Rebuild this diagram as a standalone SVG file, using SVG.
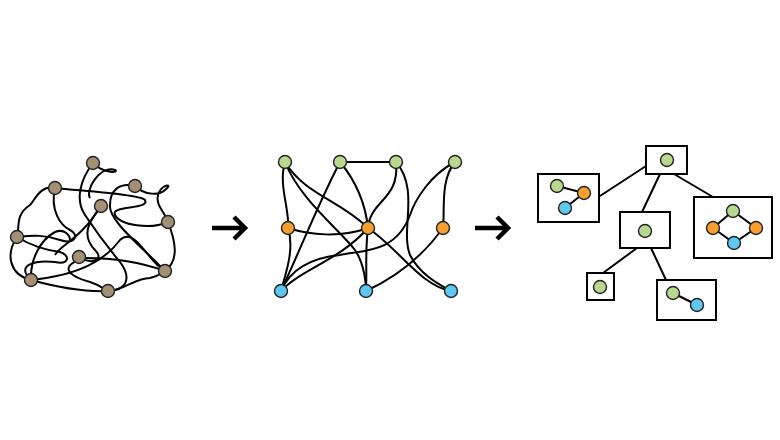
<svg xmlns="http://www.w3.org/2000/svg" width="780" height="440" viewBox="0 0 780 440">
<style>
.e{fill:none;stroke:#000;stroke-width:2}
.n{stroke:#222;stroke-width:1.4}
.br{fill:#a28f74}
.g{fill:#b9d88f}
.o{fill:#f7a030}
.c{fill:#5fc8f0}
.box{fill:#fff;stroke:#000;stroke-width:2}
.ar{fill:none;stroke:#000;stroke-width:4.5}
</style>
<rect width="780" height="440" fill="#fff"/>
<g id="connectors">
<path class="e" d="M93,163 C80,180 75,200 85,215 C95,230 110,250 120,262 C130,275 130,290 108,291"/>
<path class="e" d="M93,163 C105,175 120,172 115,170 C100,165 85,190 90,198"/>
<path class="e" d="M55,188 C95,192 140,195 145,200 C150,210 110,205 115,215 C120,225 150,230 168,222"/>
<path class="e" d="M55,188 C40,185 35,200 30,205 C15,215 20,225 17,237"/>
<path class="e" d="M55,188 C50,210 60,225 70,230 C80,235 75,245 60,240 C45,235 35,235 17,237"/>
<path class="e" d="M17,237 C30,245 45,250 60,252 C70,255 70,265 55,262 C35,260 15,265 31,280"/>
<path class="e" d="M17,237 C5,255 10,275 31,280"/>
<path class="e" d="M135,186 C120,182 110,190 110,205 C108,220 140,245 165,271"/>
<path class="e" d="M135,186 C145,196 160,195 165,190 C175,182 160,185 158,195 C155,205 165,212 168,222"/>
<path class="e" d="M101,206 C90,220 80,235 95,250 C105,260 92,265 79,257"/>
<path class="e" d="M101,206 C80,240 60,245 55,255"/>
<path class="e" d="M168,222 C175,240 180,260 165,271"/>
<path class="e" d="M165,271 C150,265 135,225 120,240 C105,260 80,275 31,280"/>
<path class="e" d="M165,271 C140,262 110,258 85,258 C60,265 65,275 90,282 C100,285 105,290 108,291"/>
<path class="e" d="M31,280 C30,260 40,240 55,232 C65,228 70,236 70,240"/>
<path class="e" d="M31,280 C60,288 85,292 108,291 C125,290 135,278 150,278 C160,276 162,272 165,271"/>
<path class="e" d="M285,162 C278,185 290,210 288,228"/>
<path class="e" d="M285,162 C305,195 340,200 368,228"/>
<path class="e" d="M285,162 C300,200 340,230 355,250 C365,265 366,285 366,291"/>
<path class="e" d="M340,162 C320,200 300,250 281,291"/>
<path class="e" d="M340,162 C355,180 365,200 368,228"/>
<path class="e" d="M340,162 L396,162"/>
<path class="e" d="M396,162 C400,200 370,200 368,228"/>
<path class="e" d="M396,162 C420,190 400,230 410,255 C420,275 440,285 451,291"/>
<path class="e" d="M455,162 C440,180 445,210 443,228"/>
<path class="e" d="M455,162 C430,175 415,200 410,215 C395,255 360,250 340,255 C310,258 290,270 281,291"/>
<path class="e" d="M288,228 C310,235 340,238 368,228"/>
<path class="e" d="M288,228 C295,250 285,275 281,291"/>
<path class="e" d="M368,228 C340,260 300,270 281,291"/>
<path class="e" d="M368,228 C365,250 367,270 366,291"/>
<path class="e" d="M368,228 C400,250 420,285 451,291"/>
<path class="e" d="M443,228 C420,260 390,280 366,291"/>
<path class="e" d="M646,166 L600,196"/>
<path class="e" d="M660,174 L642,212"/>
<path class="e" d="M674,174 L713,197"/>
<path class="e" d="M637,248 L603,273"/>
<path class="e" d="M651,248 L666,280"/>
<path class="ar" d="M212,228 L244,228 M234,217 L245,228 L234,239"/>
<path class="ar" d="M475,228 L507,228 M497,217 L508,228 L497,239"/>
</g>
<g id="left-nodes">
<circle class="n br" cx="93" cy="163" r="6.5"/>
<circle class="n br" cx="55" cy="188" r="6.5"/>
<circle class="n br" cx="135" cy="186" r="6.5"/>
<circle class="n br" cx="101" cy="206" r="6.5"/>
<circle class="n br" cx="168" cy="222" r="6.5"/>
<circle class="n br" cx="17" cy="237" r="6.5"/>
<circle class="n br" cx="79" cy="257" r="6.5"/>
<circle class="n br" cx="165" cy="271" r="6.5"/>
<circle class="n br" cx="31" cy="280" r="6.5"/>
<circle class="n br" cx="108" cy="291" r="6.5"/>
</g>
<g id="middle-nodes">
<circle class="n g" cx="285" cy="162" r="6.5"/>
<circle class="n g" cx="340" cy="162" r="6.5"/>
<circle class="n g" cx="396" cy="162" r="6.5"/>
<circle class="n g" cx="455" cy="162" r="6.5"/>
<circle class="n o" cx="288" cy="228" r="6.5"/>
<circle class="n o" cx="368" cy="228" r="6.5"/>
<circle class="n o" cx="443" cy="228" r="6.5"/>
<circle class="n c" cx="281" cy="291" r="6.5"/>
<circle class="n c" cx="366" cy="291" r="6.5"/>
<circle class="n c" cx="451" cy="291" r="6.5"/>
</g>
<g id="tree-top"><rect class="box" x="646" y="146" width="41" height="28"/><circle class="n g" cx="667" cy="160" r="6.5"/></g>
<g id="tree-left"><rect class="box" x="538" y="174" width="61" height="48"/>
<path class="e" d="M557,186 L584,193 L565,208"/>
<circle class="n g" cx="557" cy="186" r="6.5"/><circle class="n o" cx="584" cy="193" r="6.5"/><circle class="n c" cx="565" cy="208" r="6.5"/></g>
<g id="tree-mid"><rect class="box" x="620" y="212" width="50" height="36"/><circle class="n g" cx="645" cy="231" r="6.5"/></g>
<g id="tree-right"><rect class="box" x="694" y="197" width="78" height="61"/>
<path class="e" d="M713,228 L733,211 L756,228 L734,243 Z"/>
<circle class="n g" cx="733" cy="211" r="6.5"/><circle class="n o" cx="713" cy="228" r="6.5"/><circle class="n o" cx="756" cy="228" r="6.5"/><circle class="n c" cx="734" cy="243" r="6.5"/></g>
<g id="tree-small"><rect class="box" x="587" y="273" width="27" height="27"/><circle class="n g" cx="600" cy="287" r="6.5"/></g>
<g id="tree-br"><rect class="box" x="657" y="280" width="59" height="40"/>
<path class="e" d="M673,293 L697,305"/>
<circle class="n g" cx="673" cy="293" r="6.5"/><circle class="n c" cx="697" cy="305" r="6.5"/></g>
</svg>
